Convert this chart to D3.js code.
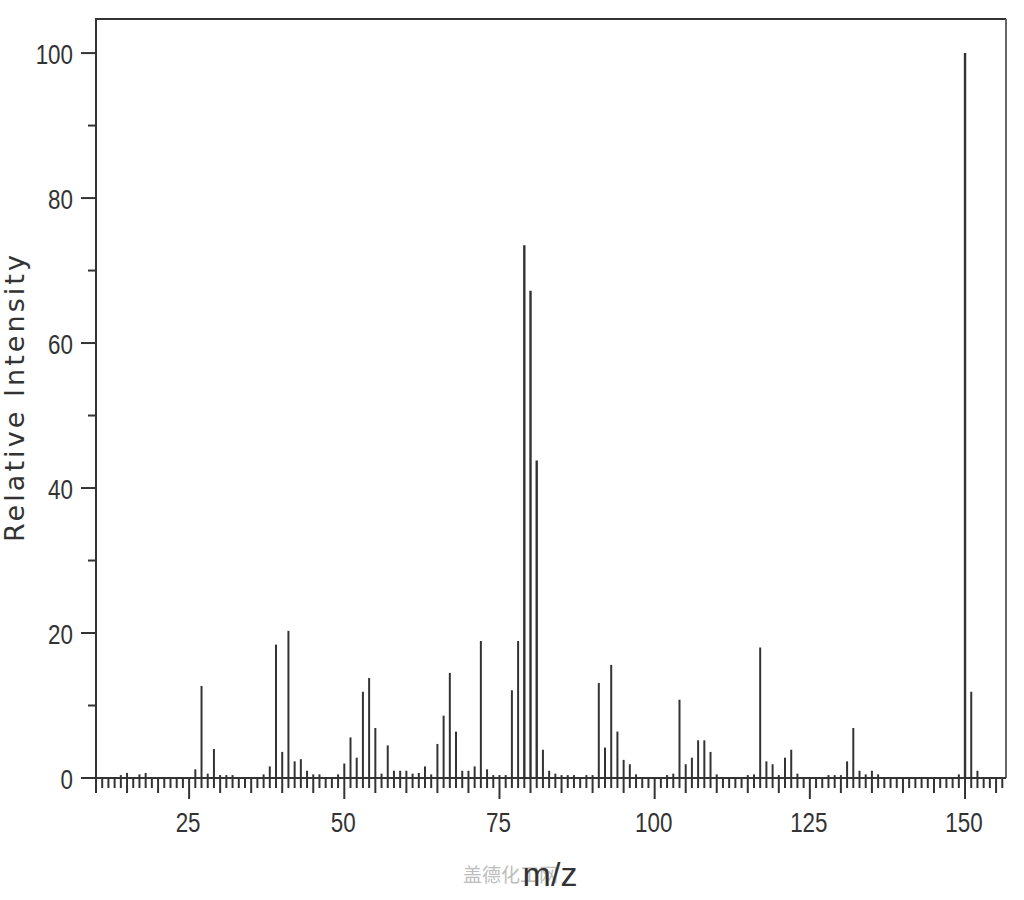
<!DOCTYPE html>
<html>
<head>
<meta charset="utf-8">
<script src="https://cdn.jsdelivr.net/npm/d3@7/dist/d3.min.js"></script>
<style>
  html, body { margin: 0; padding: 0; background: #fff; }
  svg { display: block; }
</style>
</head>
<body>
<svg id="chart" width="1024" height="900"></svg>
<script>
// m/z values of the peaks
const mz = [14, 15, 17, 18,
  26, 27, 28, 29, 30, 31, 32,
  37, 38, 39, 40, 41, 42, 43, 44, 45, 46,
  49, 50, 51, 52, 53, 54, 55, 56, 57, 58, 59, 60, 61, 62, 63, 64,
  65, 66, 67, 68, 69, 70, 71, 72, 73, 74, 75, 76, 77, 78, 79, 80, 81, 82, 83, 84, 85, 86, 87, 89, 90,
  91, 92, 93, 94, 95, 96, 97,
  102, 103, 104, 105, 106, 107, 108, 109, 110,
  115, 116, 117, 118, 119, 120, 121, 122, 123,
  128, 129, 130, 131, 132, 133, 134, 135, 136,
  149, 150, 151, 152];
// relative intensities (%)
const intensity = [0.4, 0.7, 0.5, 0.7,
  1.2, 12.7, 0.6, 4.0, 0.4, 0.4, 0.4,
  0.5, 1.6, 18.4, 3.6, 20.3, 2.3, 2.6, 1.0, 0.5, 0.5,
  0.5, 2.0, 5.6, 2.8, 11.9, 13.8, 6.9, 0.6, 4.5, 1.0, 1.0, 1.0, 0.6, 0.7, 1.6, 0.5,
  4.7, 8.6, 14.5, 6.4, 1.0, 1.0, 1.6, 18.9, 1.2, 0.4, 0.4, 0.4, 12.1, 18.9, 73.5, 67.2, 43.8, 3.9, 1.0, 0.6, 0.4, 0.4, 0.4, 0.4, 0.4,
  13.1, 4.2, 15.6, 6.4, 2.5, 1.9, 0.5,
  0.4, 0.6, 10.8, 1.9, 2.8, 5.2, 5.2, 3.6, 0.5,
  0.4, 0.5, 18.0, 2.3, 1.9, 0.4, 2.8, 3.9, 0.6,
  0.4, 0.4, 0.4, 2.3, 6.9, 1.0, 0.5, 1.0, 0.5,
  0.5, 100, 11.9, 1.0];
const xTickLabels = [25, 50, 75, 100, 125, 150];
const yTickLabels = [0, 20, 40, 60, 80, 100];
const yMinorTicks = [10, 30, 50, 70, 90];
const xLabel = "m/z";
const yLabel = "Relative Intensity";
const watermark = "盖德化工网";

const svg = d3.select("#chart");
const x = d3.scaleLinear().domain([10, 156.6]).range([96, 1006]);
const y = d3.scaleLinear().domain([0, 104.7]).range([778, 19]);
const ink = "#333";
const digitFont = "'Liberation Sans', Arial, sans-serif";

// frame (top + right)
svg.append("line").attr("x1", x(10)).attr("x2", x(156.6)).attr("y1", y(104.7)).attr("y2", y(104.7))
  .attr("stroke", ink).attr("stroke-width", 2);
svg.append("line").attr("x1", x(156.6)).attr("x2", x(156.6)).attr("y1", y(104.7)).attr("y2", y(0))
  .attr("stroke", "#666").attr("stroke-width", 2);

// x minor ticks below axis
const xt = d3.range(10, 157);
svg.append("g").selectAll("line").data(xt).join("line")
  .attr("x1", d => x(d)).attr("x2", d => x(d))
  .attr("y1", y(0))
  .attr("y2", d => y(0) + (d % 25 === 0 ? 21 : d % 5 === 0 ? 15 : 10))
  .attr("stroke", ink).attr("stroke-width", 2);

// peaks
svg.append("g").selectAll("line").data(mz).join("line")
  .attr("x1", d => x(d)).attr("x2", d => x(d))
  .attr("y1", y(0))
  .attr("y2", (d, i) => y(intensity[i]))
  .attr("stroke", ink).attr("stroke-width", (d, i) => intensity[i] > 40 ? 2.4 : 2);

// axes lines
svg.append("line").attr("x1", x(10)).attr("x2", x(10)).attr("y1", y(104.7) - 1).attr("y2", y(0))
  .attr("stroke", ink).attr("stroke-width", 2);
svg.append("line").attr("x1", 81).attr("x2", x(156.6)).attr("y1", y(0)).attr("y2", y(0))
  .attr("stroke", ink).attr("stroke-width", 2);

// y ticks
svg.append("g").selectAll("line").data(yTickLabels).join("line")
  .attr("x1", 81).attr("x2", x(10)).attr("y1", d => y(d)).attr("y2", d => y(d))
  .attr("stroke", ink).attr("stroke-width", 2);
svg.append("g").selectAll("line").data(yMinorTicks).join("line")
  .attr("x1", 88).attr("x2", x(10)).attr("y1", d => y(d)).attr("y2", d => y(d))
  .attr("stroke", ink).attr("stroke-width", 2);

// y tick labels
svg.append("g").selectAll("text").data(yTickLabels).join("text")
  .attr("transform", d => `translate(73,${y(d) + 10.5}) scale(0.8,1)`)
  .attr("text-anchor", "end")
  .attr("font-family", digitFont).attr("font-size", 28).attr("fill", ink)
  .text(d => d);

// x tick labels
svg.append("g").selectAll("text").data(xTickLabels).join("text")
  .attr("transform", d => `translate(${x(d) - 1},832) scale(0.8,1)`)
  .attr("text-anchor", "middle")
  .attr("font-family", digitFont).attr("font-size", 28).attr("fill", ink)
  .text(d => d);

// y axis label
svg.append("text")
  .attr("transform", "translate(24,542) rotate(-90)")
  .attr("text-anchor", "start")
  .attr("font-family", "'DejaVu Sans', Verdana, sans-serif").attr("font-size", 27)
  .attr("fill", ink)
  .attr("textLength", 287).attr("lengthAdjust", "spacing")
  .text(yLabel);

// watermark
svg.append("text")
  .attr("x", 463).attr("y", 882)
  .attr("font-family", "'Noto Sans CJK SC', sans-serif").attr("font-size", 19)
  .attr("fill", "#bdbdbd")
  .text(watermark);

// x axis label
svg.append("text")
  .attr("x", 550).attr("y", 886)
  .attr("text-anchor", "middle")
  .attr("font-family", digitFont).attr("font-size", 34)
  .attr("fill", ink)
  .text(xLabel);
</script>
</body>
</html>
